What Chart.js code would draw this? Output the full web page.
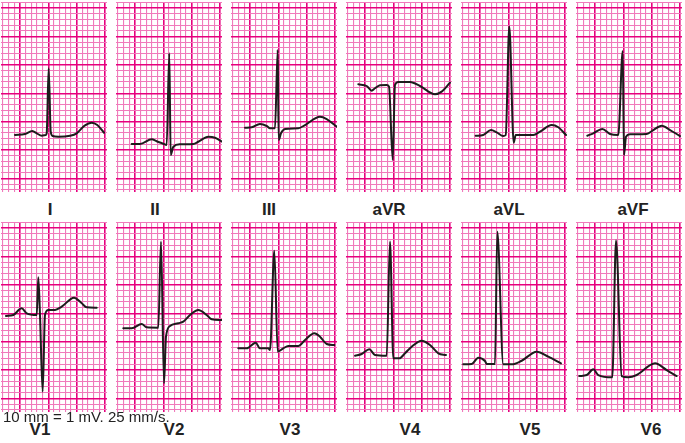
<!DOCTYPE html>
<html>
<head>
<meta charset="utf-8">
<script src="https://cdn.jsdelivr.net/npm/chart.js@4/dist/chart.umd.min.js"></script>
<style>
  body { margin: 0; background: #fff; }
  #wrap { position: relative; width: 685px; height: 443px; overflow: hidden; font-family: "Liberation Sans", Arial, sans-serif; }
  canvas { position: absolute; }
  .lbl { position: absolute; font-weight: bold; font-size: 17px; color: #222; transform: translate(-50%, -50%); white-space: nowrap; }
  .note { position: absolute; left: 3px; top: 408px; font-size: 15px; color: #222; white-space: nowrap; }
</style>
</head>
<body>
<div id="wrap"></div>
<script>
// ECG leads, x and y in mm (1 small square = 1 mm, big square = 5 mm)
const leadNames = ["I", "II", "III", "aVR", "aVL", "aVF", "V1", "V2", "V3", "V4", "V5", "V6"];

const leadI = [[-0.88, 2.65], [0.88, 2.82], [2.17, 3.35], [2.95, 2.95], [3.83, 2.52], [4.54, 2.65], [4.71, 2.95], [5.06, 14.4], [5.42, 3.23], [5.77, 2.47], [6.76, 2.35], [8.82, 2.52], [10.0, 2.95], [11.4, 4.3], [12.65, 4.82], [13.64, 4.41], [14.82, 3.05]];
const leadII = [[-0.58, 1.06], [0.88, 1.06], [2.95, 1.89], [3.83, 1.54], [5.29, 1.0], [5.59, 0.88], [6.05, 17.06], [6.3, -0.88], [6.76, 0.58], [7.94, 1.0], [10.29, 1.06], [11.17, 1.46], [12.94, 2.35], [14.12, 2.17], [15.3, 1.5]];
const leadIII = [[-0.88, 3.94], [0.3, 4.01], [1.76, 4.59], [2.95, 4.24], [3.53, 3.83], [4.41, 3.83], [4.89, 17.65], [5.06, 1.76], [5.47, 2.95], [6.18, 3.71], [8.52, 3.83], [9.71, 4.41], [12.35, 5.88], [13.53, 5.47], [15.3, 4.12]];
const leadAVR = [[-1.18, 11.59], [0.3, 11.29], [1.18, 10.47], [1.76, 10.89], [2.65, 11.42], [3.83, 11.47], [4.24, 11.17], [4.89, -1.76], [5.29, 11.47], [5.88, 12.0], [7.94, 12.0], [9.71, 11.29], [12.35, 9.83], [13.53, 10.29], [15.0, 11.88]];
const leadAVL = [[-0.76, 2.52], [0.58, 2.65], [1.94, 3.53], [2.95, 3.12], [4.11, 2.47], [4.54, 2.65], [5.17, 21.76], [5.95, 1.29], [6.3, 2.65], [7.36, 2.65], [9.41, 2.65], [10.59, 3.23], [12.65, 4.41], [13.82, 4.01], [15.18, 2.65]];
const leadAVF = [[-1.36, 2.52], [-0.3, 2.95], [1.29, 3.71], [2.65, 2.82], [4.11, 2.65], [4.89, 17.47], [5.12, -0.88], [5.47, 2.35], [6.18, 2.77], [9.12, 2.82], [10.29, 3.53], [11.77, 4.29], [13.24, 3.53], [15.0, 2.47]];
const leadV1 = [[-2.47, 9.53], [-1.18, 9.71], [0.3, 10.89], [1.18, 10.0], [2.95, 9.71], [3.23, 16.36], [3.53, 9.71], [4.0, -3.83], [4.41, 9.71], [5.0, 10.59], [6.18, 10.59], [7.36, 11.17], [9.53, 12.76], [10.89, 11.77], [11.77, 11.06], [13.53, 10.99]];
const leadV2 = [[-2.06, 7.36], [-0.58, 7.36], [1.18, 8.12], [2.06, 7.53], [4.11, 7.47], [4.59, 22.64], [5.12, -2.35], [5.47, 5.88], [6.18, 7.76], [7.64, 8.24], [8.52, 8.52], [9.71, 9.71], [11.17, 10.59], [12.65, 9.71], [13.53, 8.95], [15.3, 8.82]];
const leadV3 = [[-2.06, 3.83], [-0.58, 3.83], [1.0, 4.82], [1.76, 3.83], [3.23, 3.83], [3.53, 3.53], [4.29, 21.05], [4.89, 3.23], [5.88, 3.83], [6.76, 4.24], [8.52, 4.24], [9.71, 5.29], [11.35, 6.47], [12.35, 5.88], [13.53, 4.59], [14.88, 4.41]];
const leadV4 = [[-1.76, 2.52], [-0.58, 2.82], [0.76, 3.65], [1.76, 2.65], [3.83, 2.52], [4.41, 22.64], [5.0, 2.06], [6.06, 2.06], [7.06, 2.95], [8.24, 4.12], [10.0, 5.17], [11.47, 4.41], [12.94, 2.95], [14.29, 2.65]];
const leadV5 = [[-2.95, 1.0], [-1.46, 1.06], [-0.3, 2.17], [0.88, 1.59], [1.18, 1.06], [2.65, 1.06], [3.05, 24.4], [4.11, 1.0], [5.59, 1.0], [7.36, 1.64], [10.0, 3.23], [12.05, 2.35], [14.29, 1.18]];
const leadV6 = [[-2.77, -1.06], [-1.46, -0.88], [-0.3, 0.12], [0.58, -0.88], [3.05, -1.29], [3.71, 22.82], [4.71, -1.06], [5.88, -1.29], [7.36, -0.88], [10.59, 1.18], [12.65, 0.0], [14.41, -1.06]];

const leads = [leadI, leadII, leadIII, leadAVR, leadAVL, leadAVF, leadV1, leadV2, leadV3, leadV4, leadV5, leadV6];
const noteText = "10 mm = 1 mV. 25 mm/s.";

// layout
const panelW = 106, panelH = 190;
const rowTop = [2, 222];
const labelPos = [[50, 210], [155, 210], [269, 210], [389, 210], [509, 210], [633, 210],
                  [40, 430], [174, 430], [290, 430], [410, 430], [530, 430], [651, 430]];
const X_MIN = -3.35, X_MAX = 15.35, Y_MIN = -7.4, Y_MAX = 26.1;

const MAJOR = "#e6007e";
const MINOR = "#f07abb";

const wrap = document.getElementById("wrap");

function gridOpts() {
  return {
    color: (ctx) => (Math.round(ctx.tick.value) % 5 === 0 ? MAJOR : MINOR),
    lineWidth: (ctx) => (Math.round(ctx.tick.value) % 5 === 0 ? 1.6 : 1.1),
    drawTicks: false,
  };
}

function intTicks(scale) {
  const ticks = [];
  for (let v = Math.ceil(scale.min); v <= Math.floor(scale.max); v++) ticks.push({ value: v });
  scale.ticks = ticks;
}

leads.forEach((pts, i) => {
  const col = i % 6, row = Math.floor(i / 6);
  const cv = document.createElement("canvas");
  cv.width = panelW;
  cv.height = panelH;
  cv.style.left = 1 + col * 115 + "px";
  cv.style.top = rowTop[row] + "px";
  wrap.appendChild(cv);

  new Chart(cv, {
    type: "line",
    data: {
      datasets: [{
        data: pts.map((p) => ({ x: p[0], y: p[1] })),
        borderColor: "#1c1c1c",
        borderWidth: 2,
        pointRadius: 0,
        cubicInterpolationMode: "monotone",
        borderJoinStyle: "round",
        borderCapStyle: "round",
      }],
    },
    options: {
      responsive: false,
      animation: false,
      devicePixelRatio: 1,
      layout: { padding: 0 },
      plugins: { legend: { display: false }, tooltip: { enabled: false } },
      scales: {
        x: { type: "linear", min: X_MIN, max: X_MAX, afterBuildTicks: intTicks, ticks: { display: false }, grid: gridOpts(), border: { display: false } },
        y: { type: "linear", min: Y_MIN, max: Y_MAX, afterBuildTicks: intTicks, ticks: { display: false }, grid: gridOpts(), border: { display: false } },
      },
    },
  });

  const lbl = document.createElement("div");
  lbl.className = "lbl";
  lbl.textContent = leadNames[i];
  lbl.style.left = labelPos[i][0] + "px";
  lbl.style.top = labelPos[i][1] + "px";
  wrap.appendChild(lbl);
});

const note = document.createElement("div");
note.className = "note";
note.textContent = noteText;
wrap.appendChild(note);
</script>
</body>
</html>
